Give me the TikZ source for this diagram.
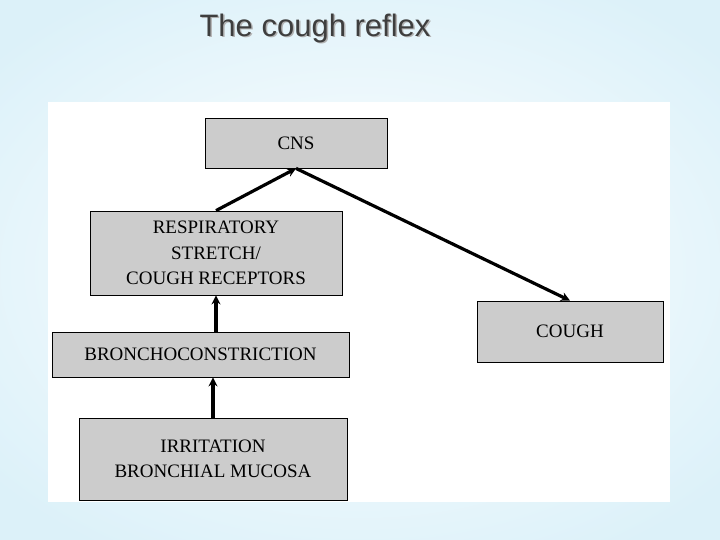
\documentclass[tikz,border=0pt]{standalone}
\usepackage{fontspec}
\setmainfont{Liberation Serif}
\newfontfamily\titlefont{Liberation Sans}
\usepackage{xcolor}
\usepackage{tikz}
\usetikzlibrary{arrows.meta,calc}
\definecolor{slideblue}{RGB}{220,241,249}
\definecolor{boxgray}{RGB}{204,204,204}
\definecolor{titlegray}{RGB}{62,62,62}
\tikzset{
  stage/.style={rectangle, draw=black, fill=boxgray, line width=0.8pt,
                inner sep=0pt, align=center, font=\fontsize{19}{25.5}\selectfont},
  reflex/.style={-{Stealth[length=9pt,width=9pt]}, line width=3.2pt, black},
  heading/.style={font=\titlefont\fontsize{31}{36}\selectfont}
}
\begin{document}
\begin{tikzpicture}[x=1pt,y=-1pt]
        \useasboundingbox (0,0) rectangle (720,540);
        % slide background
        \shade[inner color=white, outer color=slideblue] (-120,-60) rectangle (840,600);
        \fill[white] (48,102) rectangle (670,502);
        % title
        \node[heading, text=gray!60] (titleshadow) at (316.5,29.5) {The cough reflex};
        \node[heading, text=titlegray] (title) at (315,28) {The cough reflex};
        % boxes
        \node[stage, minimum width=182pt, minimum height=50pt] (cns) at (296,143) {CNS};
        \node[stage, minimum width=252pt, minimum height=84pt] (recept) at (216,253)
              {RESPIRATORY\\STRETCH/\\COUGH RECEPTORS};
        \node[stage, minimum width=297pt, minimum height=45pt] (broncho) at (200.5,354.5)
              {BRONCHOCONSTRICTION};
        \node[stage, minimum width=268pt, minimum height=82pt] (irrit) at (213,459)
              {IRRITATION\\BRONCHIAL MUCOSA};
        \node[stage, minimum width=186pt, minimum height=61pt] (cough) at (570,331.5) {COUGH};
        % arrows
        \draw[reflex] (irrit.north) -- (irrit.north |- broncho.south);
        \draw[reflex] (recept.south |- broncho.north) -- (recept.south);
        \draw[reflex] (recept.north) -- (cns.south);
        \draw[reflex] (cns.south) -- (cough.north);
      \end{tikzpicture}
\end{document}
